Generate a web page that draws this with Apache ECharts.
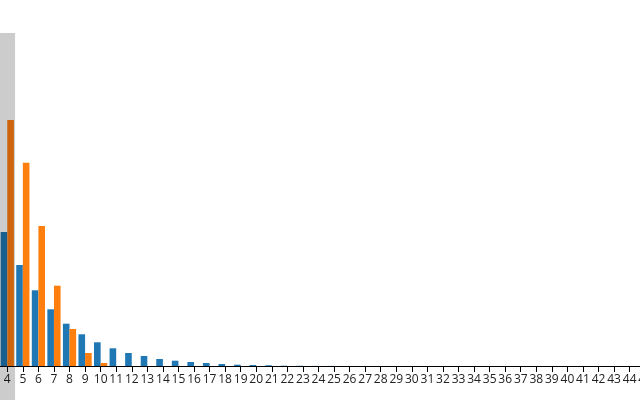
<!DOCTYPE html>
<html>
<head>
<meta charset="utf-8">
<script src="https://cdn.jsdelivr.net/npm/echarts@6/dist/echarts.min.js"></script>
<style>
html,body{margin:0;padding:0;background:#fff;}
#chart{width:640px;height:400px;}
</style>
</head>
<body>
<div id="chart"></div>
<script>
const categories = ['4','5','6','7','8','9','10','11','12','13','14','15','16','17','18','19','20','21','22','23','24','25','26','27','28','29','30','31','32','33','34','35','36','37','38','39','40','41','42','43','44','45'];
const blueValues = [0.134,0.101,0.0757,0.0567,0.0423,0.0317,0.0237,0.0177,0.013,0.010,0.007,0.0053,0.004,0.003,0.002,0.0013,0.001,0.0007,0.0003,0.0002,0.0001,0.0001,0,0,0,0,0,0,0,0,0,0,0,0,0,0,0,0,0,0,0,0];
const orangeValues = [0.246,0.2033,0.140,0.0803,0.037,0.013,0.003,0,0,0,0,0,0,0,0,0,0,0,0,0,0,0,0,0,0,0,0,0,0,0,0,0,0,0,0,0,0,0,0,0,0,0];
const highlighted = '4';

const gridLeft = -0.5, gridRight = -13;
const halfBand = (640 - gridLeft - gridRight) / categories.length / 2;

const chart = echarts.init(document.getElementById('chart'), null, {renderer:'canvas'});
chart.setOption({
  animation: false,
  grid: [
    {left: gridLeft, right: gridRight, top: 33, bottom: 34, containLabel: false, outerBoundsMode: 'none'},
    {left: gridLeft, right: gridRight, top: 33, bottom: 0, containLabel: false, outerBoundsMode: 'none'},
    {left: gridLeft + halfBand, right: gridRight + halfBand, top: 366, bottom: 28, containLabel: false, outerBoundsMode: 'none'}
  ],
  xAxis: [
    {
      type: 'category',
      gridIndex: 0,
      data: categories,
      position: 'bottom',
      axisLine: {show: true, onZero: false, lineStyle: {color: '#000', width: 1}},
      axisTick: {show: true, alignWithLabel: true, length: 6, lineStyle: {color: '#000', width: 1}},
      axisLabel: {interval: 0, color: '#222', fontFamily: 'Open Sans', fontSize: 12, margin: 8, hideOverlap: false}
    },
    {
      type: 'category',
      gridIndex: 1,
      data: categories,
      axisLine: {show: false},
      axisTick: {show: false},
      axisLabel: {show: false},
      axisPointer: {
        show: true, type: 'shadow', value: highlighted, status: 'show', triggerTooltip: false,
        label: {show: false},
        shadowStyle: {color: 'rgba(0,0,0,0.2)'}
      }
    },
    {
      type: 'category',
      gridIndex: 2,
      data: categories,
      boundaryGap: false,
      axisLine: {show: false},
      axisTick: {show: false},
      axisLabel: {show: false},
      splitLine: {show: true, interval: 0, lineStyle: {color: '#000', width: 1}}
    }
  ],
  yAxis: [
    {type: 'value', gridIndex: 0, show: false, min: 0, max: 0.333, splitLine: {show: false}},
    {type: 'value', gridIndex: 1, show: false, min: 0, max: 1, splitLine: {show: false}},
    {type: 'value', gridIndex: 2, show: false, min: 0, max: 1, splitLine: {show: false}}
  ],
  series: [
    {
      type: 'bar', data: blueValues, barGap: '0%', barCategoryGap: '15%',
      itemStyle: {color: '#1f77b4'}
    },
    {
      type: 'bar', data: orangeValues, barGap: '0%', barCategoryGap: '15%',
      itemStyle: {color: '#ff7f0e'}
    }
  ]
});
</script>
</body>
</html>
